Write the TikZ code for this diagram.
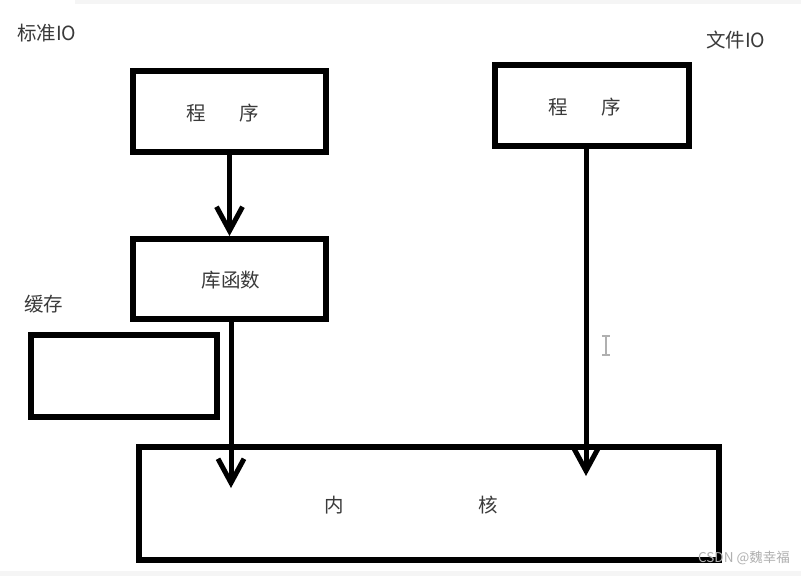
\documentclass[tikz,border=0pt]{standalone}
\usepackage{fontspec}
\setmainfont{Noto Sans CJK SC}
\usetikzlibrary{arrows.meta,calc}
\definecolor{txt}{HTML}{3A3A3A}
\definecolor{wm}{HTML}{B0B0B0}
\begin{document}
\begin{tikzpicture}[x=1pt,y=-1pt,
  blk/.style={draw=black,line width=6pt,minimum width=#1,inner sep=0pt},
  lbl/.style={text=txt,font=\fontsize{19.5pt}{23pt}\selectfont,inner sep=0pt},
  arr/.style={line width=5pt,-{Straight Barb[length=24pt,width=26pt]}}]
\useasboundingbox (0,0) rectangle (801,576);
\fill[white] (0,0) rectangle (801,576);
\fill[black!4] (75,0) rectangle (801,4);
\fill[black!4] (0,571) rectangle (801,576);
% boxes
\node[blk=193pt,minimum height=81pt] (prog1) at (229.5,111.5) {};
\node[blk=194pt,minimum height=81pt] (prog2) at (592,105.5) {};
\node[blk=193pt,minimum height=80pt] (lib) at (229.5,279) {};
\node[blk=186pt,minimum height=82pt] (cache) at (124,376) {};
\node[blk=580pt,minimum height=113pt] (kernel) at (429,503.5) {};
% texts
\node[lbl,anchor=west] (t1) at (17,33) {标准IO};
\node[lbl,anchor=west] (t2) at (706,40) {文件IO};
\node[lbl,anchor=west] (t3) at (24,304) {缓存};
\node[lbl] (p1) at (222.5,113) {程\hspace{34pt}序};
\node[lbl] (p2) at (584.5,107) {程\hspace{34pt}序};
\node[lbl] (l1) at (231,280) {库函数};
\node[lbl] (k1) at (411,505) {内\hspace{135pt}核};
% arrows
\coordinate (e2) at (231,488);
\coordinate (e3) at (586,476);
\draw[arr] (prog1.south) -- (lib.north);
\draw[arr] (lib.south -| e2) -- (e2);
\draw[arr] (prog2.south -| e3) -- (e3);
% text cursor
\draw[wm,line width=1.2pt] (606,336) -- (606,355) (602,336) -- (610,336) (602,355) -- (610,355);
% watermark
\node[text=wm,font=\fontsize{13.5pt}{16pt}\selectfont,anchor=east,inner sep=0pt] (wmk) at (790,558) {CSDN @魏幸福};
\end{tikzpicture}
\end{document}
